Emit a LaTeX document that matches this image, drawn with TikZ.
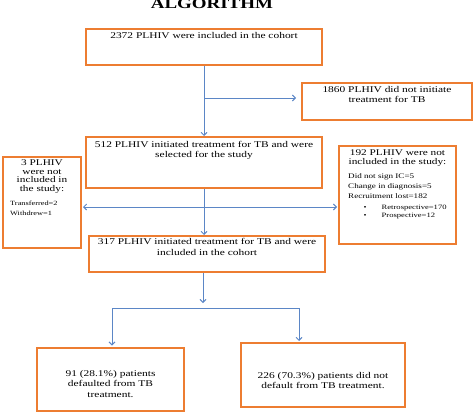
\documentclass[tikz,border=0pt]{standalone}
\usepackage{fontspec}
\setmainfont[FakeStretch=1.3]{Liberation Serif}
\usetikzlibrary{positioning,arrows.meta}
\definecolor{boxorange}{RGB}{237,125,49}
\definecolor{lineblue}{RGB}{91,134,198}
\tikzset{
	box/.style={draw=boxorange, line width=2pt, inner sep=0pt},
	txt/.style={inner sep=0pt, align=center, font=\fontsize{8.8}{10}\selectfont},
	link/.style={draw=lineblue, line width=0.9pt},
	arr/.style={link, -{Straight Barb[length=3pt,width=6pt]}},
}

\begin{document}
\begin{tikzpicture}[x=1pt, y=-1pt]
		\useasboundingbox (0,0) rectangle (474,412);
		\node[anchor=base, inner sep=0pt, font=\bfseries\fontsize{14.6}{16}\selectfont] (title) at (212,8.3) {ALGORITHM};

		\node[box, minimum width=236, minimum height=36] (cohort) at (204,47) {};
		\node[txt, below=4pt of cohort.north] (cohortT) {2372 PLHIV were included in the cohort};
		\node[box, minimum width=170, minimum height=37] (noinit) at (387,101.5) {};
		\node[txt, below=4pt of noinit.north] (noinitT) {1860 PLHIV did not initiate\\treatment for TB};
		\node[box, minimum width=236, minimum height=51] (selected) at (204,162.5) {};
		\node[txt, below=5pt of selected.north] (selectedT) {512 PLHIV initiated treatment for TB and were\\selected for the study};

		\node[box, minimum width=78, minimum height=91] (exclL) at (42,202.5) {};
		\node[txt, font=\fontsize{8.7}{8.7}\selectfont, below=3.5pt of exclL.north] (exclLT) {3 PLHIV\\were not\\included in\\the study:};
		\node[txt, align=left, anchor=north west, font=\fontsize{6.4}{10}\selectfont] (exclLI) at (10,200.5) {Transferred=2\\Withdrew=1};

		\node[box, minimum width=117, minimum height=98] (exclR) at (397.5,195) {};
		\node[txt, font=\fontsize{8.7}{9}\selectfont, below=5pt of exclR.north] (exclRT) {192 PLHIV were not\\included in the study:};
		\node[txt, align=left, anchor=north west, font=\fontsize{7}{10}\selectfont] (exclRI) at (348,173.5) {Did not sign IC=5\\Change in diagnosis=5\\Recruitment lost=182};
		\node[txt, align=left, anchor=north west, font=\fontsize{6.6}{7.5}\selectfont] (exclRS) at (363.5,205) {\textbullet\hspace{15pt}Retrospective=170\\\textbullet\hspace{15pt}Prospective=12};

		\node[box, minimum width=236, minimum height=36] (cohortB) at (207,254) {};
		\node[txt, font=\fontsize{8.8}{11}\selectfont, below=3pt of cohortB.north] (cohortBT) {317 PLHIV initiated treatment for TB and were\\included in the cohort};

		\node[box, minimum width=147, minimum height=63] (defaulted) at (110.5,379) {};
		\node[txt, font=\fontsize{8.8}{10.8}\selectfont, yshift=-5pt] (defaultedT) at (defaulted) {91 (28.1\%) patients\\defaulted from TB\\treatment.};
		\node[box, minimum width=164, minimum height=64] (retained) at (323,375) {};
		\node[txt, font=\fontsize{8.8}{10.8}\selectfont, yshift=-5.5pt] (retainedT) at (retained) {226 (70.3\%) patients did not\\default from TB treatment.};

		\coordinate (toinit) at (204,98);
		\coordinate (toside) at (204,207);
		\coordinate (split) at (203,303);
		\coordinate (splitL) at (112,308);
		\coordinate (splitR) at (299,308);

		\draw[arr] (cohort) -- (selected);
		\draw[arr, shorten >=5pt] (toinit) -- (toinit -| noinit.west);
		\draw[arr] (selected.south) -- (selected.south |- cohortB.north);
		\draw[arr, shorten >=1pt] (toside) -- (toside -| exclL.east);
		\draw[arr, shorten >=1pt] (toside) -- (toside -| exclR.west);
		\draw[arr] (split |- cohortB.south) -- (split);
		\draw[link] (splitL) -- (splitR);
		\draw[arr, shorten >=1pt] (splitL) -- (splitL |- defaulted.north);
		\draw[arr, shorten >=1pt] (splitR) -- (splitR |- retained.north);
\end{tikzpicture}
\end{document}
